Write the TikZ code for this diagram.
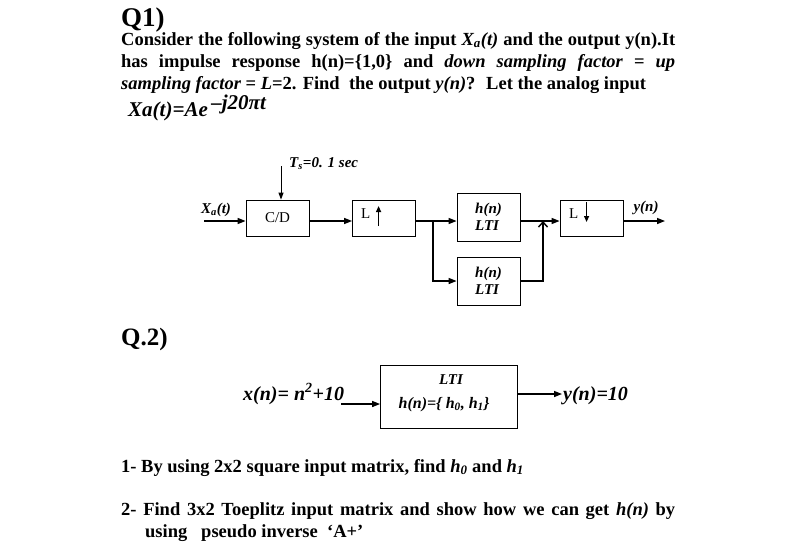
\documentclass[tikz,border=0pt]{standalone}
\usepackage{fontspec}
\setmainfont{Liberation Serif}
\usetikzlibrary{arrows.meta}
\begin{document}
\begin{tikzpicture}[x=1pt,y=-1pt,
  blk/.style={draw,line width=0.8pt,minimum width=63pt,minimum height=36pt,inner sep=0pt},
  blk2/.style={blk,minimum height=48pt,align=left,font=\fontsize{15}{17}\selectfont\bfseries\itshape},
  ar/.style={line width=1.4pt,-{Triangle[length=8pt,width=6pt]}},
  ln/.style={line width=1.4pt},
  txt/.style={anchor=base west,inner sep=0pt,font=\fontsize{18.5}{20}\selectfont\bfseries}]
\useasboundingbox (0,0) rectangle (810,546);
\fill[white] (0,0) rectangle (810,546);
% Q1 text
\node[txt,font=\fontsize{27}{29}\selectfont\bfseries] (q1) at (121,27) {Q1)};
\node[txt] (l1) at (121,45) {\makebox[554pt][s]{Consider the following system of the input \textit{X\textsubscript{a}(t)} and the output y(n).It}};
\node[txt] (l2) at (121,67) {\makebox[554pt][s]{has impulse response h(n)=\{1,0\} and \textit{down sampling factor} = \textit{up}}};
\node[txt] (l3) at (121,89) {\textit{sampling factor} = \textit{L}=2. Find \ the output \textit{y(n)}? \ Let the analog input};
\node[txt,font=\fontsize{21}{22}\selectfont\bfseries\itshape] (eq) at (128,116) {Xa(t)=Ae\,\raisebox{7pt}{–j20πt}};
% block diagram
\node[blk,font=\fontsize{15}{17}\selectfont] (cd) at (277.5,218) {C/D};
\node[blk] (up) at (384,218) {};
\node[anchor=west,inner sep=0pt,font=\fontsize{15}{17}\selectfont] (upl) at (361,214) {L};
\draw[line width=1.2pt,-{Triangle[length=6pt,width=5pt]}] (upl.east)++(8,12) coordinate (ua) -- ++(0,-20);
\node[blk2] (h1) at (488.5,217) {h(n)\\LTI};
\node[blk2] (h2) at (488.5,281) {h(n)\\LTI};
\node[blk] (dn) at (591.5,218) {};
\node[anchor=west,inner sep=0pt,font=\fontsize{15}{17}\selectfont] (dnl) at (569,214) {L};
\draw[line width=1.2pt,-{Triangle[length=6pt,width=5pt]}] (dnl.east)++(8,-12) coordinate (da) -- ++(0,20);
\coordinate (in) at (204,221);
\node[anchor=base,inner sep=0pt,font=\fontsize{15}{17}\selectfont\bfseries\itshape] (xa) at (216,213) {X\textsubscript{a}(t)};
\draw[ar] (in) -- (cd.west|-in);
\coordinate (tsa) at (281,166);
\draw[line width=1pt,-{Triangle[length=7pt,width=5pt]}] (tsa) -- (tsa|-cd.north);
\node[anchor=base west,inner sep=0pt,font=\fontsize{15}{17}\selectfont\bfseries\itshape] (ts) at (289,167) {T\textsubscript{s}=0. 1 sec};
\draw[ar] (cd.east|-in) -- (up.west|-in);
\coordinate (br) at (433,221);
\draw[ln] (up.east|-in) -- (br);
\draw[ar] (br) -- (h1.west|-in);
\draw[ar] (br) |- (h2.west);
\coordinate (jn) at (543,221);
\draw[ln] (h1.east|-in) -- (jn);
\draw[ar] (jn) -- (dn.west|-in);
\draw[line width=1.4pt,-{Straight Barb[length=5pt,width=9pt]}] (h2.east) -| (jn);
\coordinate (out) at (665,221);
\draw[ar] (dn.east|-in) -- (out);
\node[anchor=base,inner sep=0pt,font=\fontsize{15}{17}\selectfont\bfseries\itshape] (yn) at (646,211) {y(n)};
% Q2
\node[txt,font=\fontsize{25}{27}\selectfont\bfseries] (q2) at (121,345) {Q.2)};
\node[draw,line width=0.8pt,minimum width=137pt,minimum height=63pt,inner sep=0pt] (lti) at (449,396.5) {};
\node[anchor=base,inner sep=0pt,font=\fontsize{15}{17}\selectfont\bfseries\itshape] (lt) at (451,384) {LTI};
\node[anchor=base,inner sep=0pt,font=\fontsize{16}{17}\selectfont\bfseries\itshape] (hh) at (444,408) {h(n)=\{ h\textsubscript{0}, h\textsubscript{1}\}};
\node[anchor=base west,inner sep=0pt,font=\fontsize{20}{22}\selectfont\bfseries\itshape] (xn) at (243,400) {x(n)= n\textsuperscript{2}+10};
\coordinate (xin) at (341,404);
\draw[ar] (xin) -- (lti.west|-xin);
\coordinate (yo) at (562,394);
\draw[ar] (lti.east|-yo) -- (yo);
\node[anchor=base west,inner sep=0pt,font=\fontsize{20}{22}\selectfont\bfseries\itshape] (yv) at (563,400) {y(n)=10};
\node[txt] (p1) at (121,472) {1- By using 2x2 square input matrix, find \textit{h\textsubscript{0}} and \textit{h\textsubscript{1}}};
\node[txt] (p2) at (121,515) {\makebox[554pt][s]{2- Find 3x2 Toeplitz input matrix and show how we can get \textit{h(n)} by}};
\node[txt] (p3) at (145,537) {using \ \ pseudo inverse \ `A+'};
\end{tikzpicture}
\end{document}
